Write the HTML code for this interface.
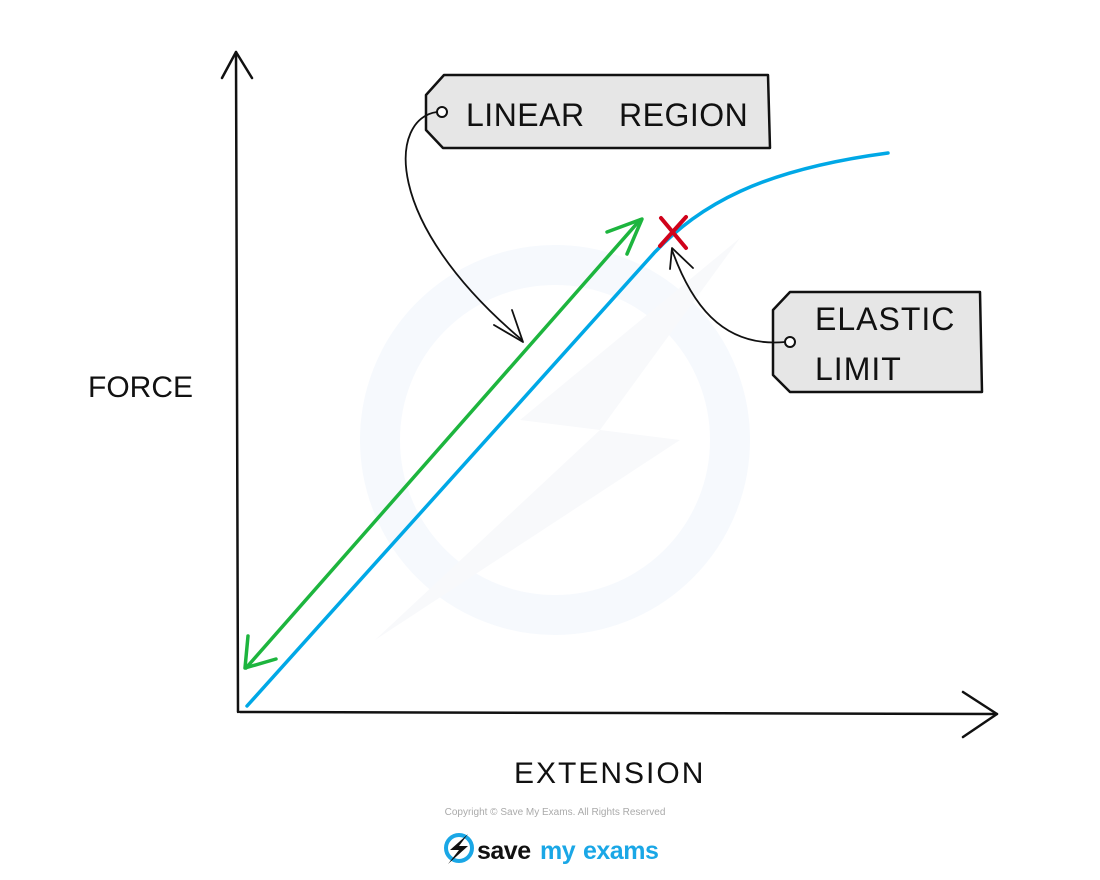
<!DOCTYPE html>
<html><head><meta charset="utf-8"><style>
html,body{margin:0;padding:0;background:#fff;}
svg{display:block;}
text{font-family:"Liberation Sans",sans-serif;}
</style></head><body>
<svg width="1100" height="880" viewBox="0 0 1100 880" xmlns="http://www.w3.org/2000/svg">
<!-- watermark -->
<circle cx="555" cy="440" r="175" fill="none" stroke="#f6f9fd" stroke-width="40"/>
<polygon points="740,238 520,420 600,430 375,640 680,440 600,430" fill="#f8f9fb"/>
<!-- axes -->
<g fill="none" stroke="#111" stroke-width="2.5" stroke-linecap="round" stroke-linejoin="round">
<path d="M238,712 L236,52"/>
<path d="M222,78 L236,52 L252,78"/>
<path d="M240,712 L997,714"/>
<path d="M963,692 L997,714 L963,737"/>
</g>
<!-- blue curve -->
<path d="M247,706 L655,252 C700,205 760,170 888,153" fill="none" stroke="#00a8e6" stroke-width="3.5" stroke-linecap="round"/>
<!-- green arrow -->
<g fill="none" stroke="#1db53e" stroke-width="3.5" stroke-linecap="round" stroke-linejoin="round">
<path d="M246,668 L640,220"/>
<path d="M607,232 L642,219 L627,254"/>
<path d="M248,636 L245,668 L276,659"/>
</g>
<!-- red X -->
<g stroke="#d0021b" stroke-width="4" stroke-linecap="round">
<path d="M661,218 L686,248"/><path d="M686,217 L660,246"/>
</g>
<!-- tag 1 -->
<polygon points="426,95 444,75 768,75 770,148 443,148 426,130" fill="#e6e6e6" stroke="#111" stroke-width="2.5" stroke-linejoin="round"/>
<circle cx="442" cy="112" r="5" fill="#fff" stroke="#111" stroke-width="2"/>
<text x="466" y="126" font-size="32" fill="#111" letter-spacing="0.5">LINEAR</text>
<text x="619" y="126" font-size="32" fill="#111" letter-spacing="0.5">REGION</text>
<!-- tag 2 -->
<polygon points="773,310 790,292 980,292 982,392 790,392 773,375" fill="#e6e6e6" stroke="#111" stroke-width="2.5" stroke-linejoin="round"/>
<circle cx="790" cy="342" r="5" fill="#fff" stroke="#111" stroke-width="2"/>
<text x="815" y="330" font-size="32" fill="#111" letter-spacing="1">ELASTIC</text>
<text x="815" y="380" font-size="32" fill="#111" letter-spacing="1">LIMIT</text>
<!-- connector arrows -->
<g fill="none" stroke="#111" stroke-width="1.8" stroke-linecap="round" stroke-linejoin="round">
<path d="M437,112 C390,118 380,220 522,340"/>
<path d="M494,325 L523,342 L512,310"/>
<path d="M785,342 C720,348 690,300 672,250"/>
<path d="M670,269 L672,248 L693,268"/>
</g>
<!-- axis labels -->
<text x="88" y="397" font-size="30" fill="#111">FORCE</text>
<text x="514" y="783" font-size="30" fill="#111" letter-spacing="2">EXTENSION</text>
<!-- footer -->
<text x="555" y="815" font-size="10" fill="#aaa" text-anchor="middle">Copyright © Save My Exams. All Rights Reserved</text>
<circle cx="459" cy="848" r="13" fill="none" stroke="#1aa7e6" stroke-width="4"/>
<polygon points="468,834 450,850 459,850 448,864 468,846 459,846" fill="#111"/>
<text x="477" y="859" font-size="25" font-weight="bold" fill="#111" letter-spacing="-0.5">save</text>
<text x="540" y="859" font-size="25" font-weight="bold" fill="#1aa7e6" letter-spacing="-0.5">my</text>
<text x="583" y="859" font-size="25" font-weight="bold" fill="#1aa7e6" letter-spacing="-0.5">exams</text>
</svg>
</body></html>
